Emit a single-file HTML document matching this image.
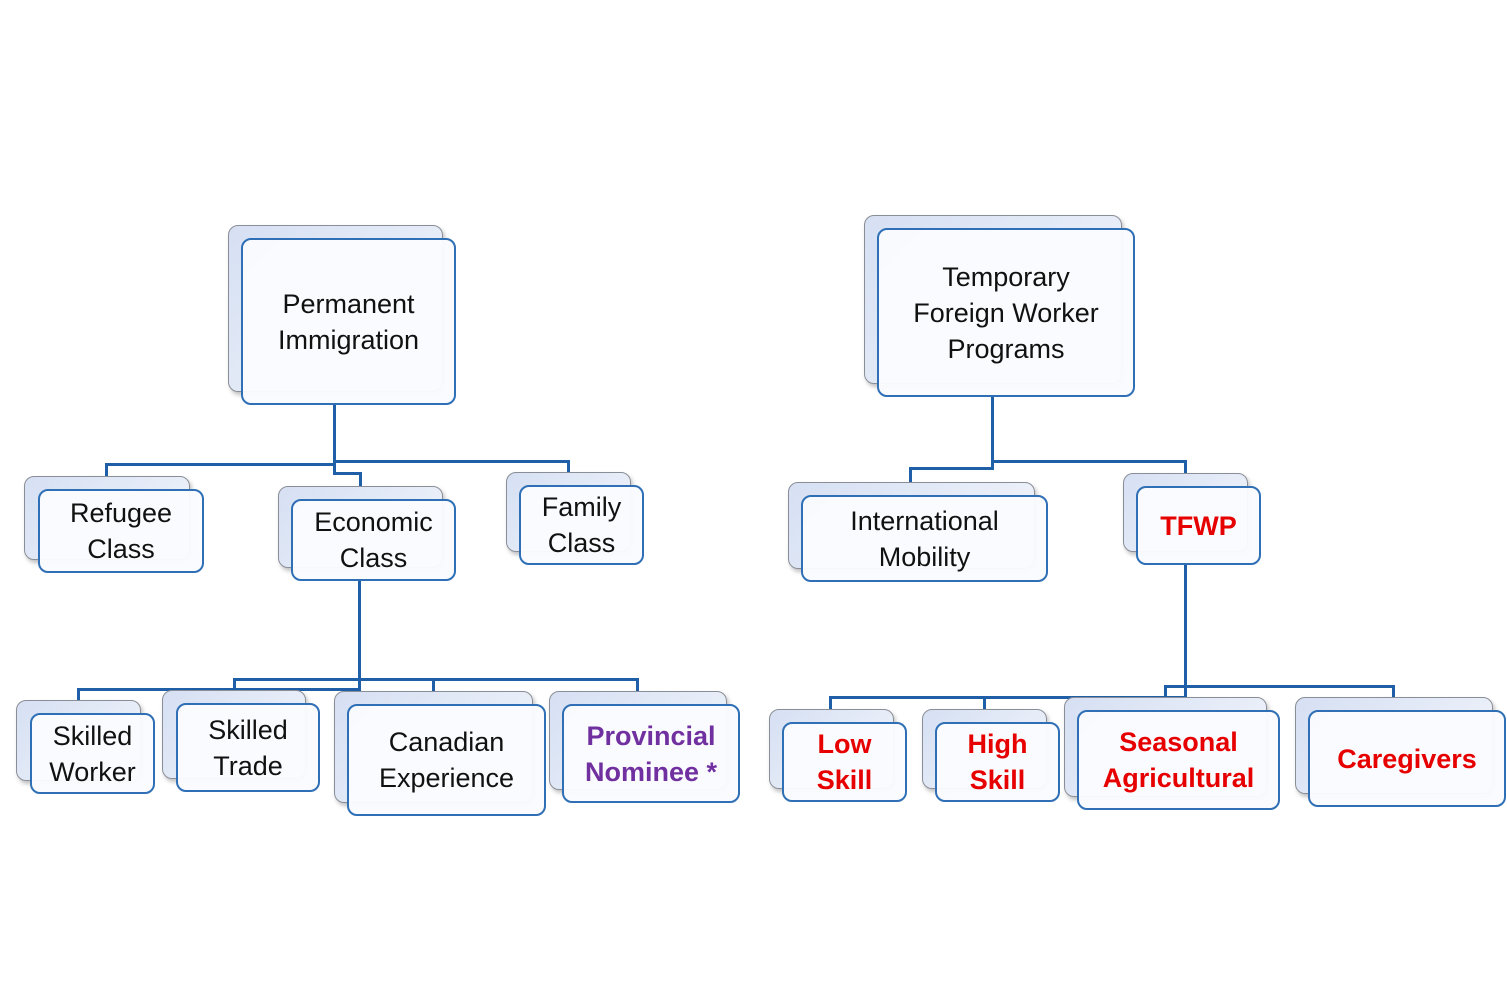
<!DOCTYPE html>
<html><head><meta charset="utf-8"><style>
body{margin:0;width:1507px;height:1000px;background:#fff;position:relative;overflow:hidden;font-family:"Liberation Sans",sans-serif}
.b{position:absolute;border:1.5px solid #8a8e96;border-radius:10px;background:linear-gradient(135deg,#d6e0f3,#f2f5fb);box-shadow:2px 3px 4px rgba(0,0,0,.25)}
.f{position:absolute;border:2px solid #2f6fb5;border-radius:10px;background:rgba(250,251,254,.97);display:flex;align-items:center;justify-content:center;text-align:center;font-size:27px;line-height:36px;color:#111;box-sizing:border-box}
.r{color:#e60000;font-weight:bold}
.p{color:#7030a0;font-weight:bold}
.l{position:absolute;background:#1f5fa8}
</style></head><body>
<!-- connectors -->
<div class="l" style="left:333px;top:405px;width:3px;height:70px"></div>
<div class="l" style="left:105px;top:463px;width:231px;height:3px"></div>
<div class="l" style="left:105px;top:463px;width:3px;height:14px"></div>
<div class="l" style="left:333px;top:460px;width:237px;height:3px"></div>
<div class="l" style="left:567px;top:460px;width:3px;height:14px"></div>
<div class="l" style="left:333px;top:472px;width:29px;height:3px"></div>
<div class="l" style="left:359px;top:472px;width:3px;height:28px"></div>
<div class="l" style="left:358px;top:581px;width:3px;height:109px"></div>
<div class="l" style="left:77px;top:688px;width:284px;height:3px"></div>
<div class="l" style="left:77px;top:688px;width:3px;height:15px"></div>
<div class="l" style="left:233px;top:678px;width:406px;height:3px"></div>
<div class="l" style="left:233px;top:678px;width:3px;height:13px"></div>
<div class="l" style="left:432px;top:678px;width:3px;height:14px"></div>
<div class="l" style="left:636px;top:678px;width:3px;height:14px"></div>
<div class="l" style="left:991px;top:397px;width:3px;height:73px"></div>
<div class="l" style="left:909px;top:467px;width:85px;height:3px"></div>
<div class="l" style="left:909px;top:467px;width:3px;height:15px"></div>
<div class="l" style="left:991px;top:460px;width:196px;height:3px"></div>
<div class="l" style="left:1184px;top:460px;width:3px;height:15px"></div>
<div class="l" style="left:1184px;top:565px;width:3px;height:133px"></div>
<div class="l" style="left:829px;top:696px;width:358px;height:3px"></div>
<div class="l" style="left:829px;top:696px;width:3px;height:14px"></div>
<div class="l" style="left:983px;top:696px;width:3px;height:14px"></div>
<div class="l" style="left:1164px;top:685px;width:231px;height:3px"></div>
<div class="l" style="left:1164px;top:685px;width:3px;height:13px"></div>
<div class="l" style="left:1392px;top:685px;width:3px;height:13px"></div>

<!-- nodes -->
<div class="b" style="left:228px;top:225px;width:213px;height:165px"></div>
<div class="f" style="left:241px;top:238px;width:215px;height:167px">Permanent<br>Immigration</div>
<div class="b" style="left:24px;top:476px;width:164px;height:82px"></div>
<div class="f" style="left:38px;top:489px;width:166px;height:84px">Refugee<br>Class</div>
<div class="b" style="left:278px;top:486px;width:163px;height:80px"></div>
<div class="f" style="left:291px;top:499px;width:165px;height:82px">Economic<br>Class</div>
<div class="b" style="left:506px;top:472px;width:123px;height:78px"></div>
<div class="f" style="left:519px;top:485px;width:125px;height:80px">Family<br>Class</div>
<div class="b" style="left:16px;top:700px;width:123px;height:79px"></div>
<div class="f" style="left:30px;top:713px;width:125px;height:81px">Skilled<br>Worker</div>
<div class="b" style="left:162px;top:690px;width:142px;height:87px"></div>
<div class="f" style="left:176px;top:703px;width:144px;height:89px">Skilled<br>Trade</div>
<div class="b" style="left:334px;top:691px;width:197px;height:110px"></div>
<div class="f" style="left:347px;top:704px;width:199px;height:112px">Canadian<br>Experience</div>
<div class="b" style="left:549px;top:691px;width:176px;height:97px"></div>
<div class="f p" style="left:562px;top:704px;width:178px;height:99px">Provincial<br>Nominee *</div>
<div class="b" style="left:864px;top:215px;width:256px;height:167px"></div>
<div class="f" style="left:877px;top:228px;width:258px;height:169px">Temporary<br>Foreign Worker<br>Programs</div>
<div class="b" style="left:788px;top:482px;width:245px;height:85px"></div>
<div class="f" style="left:801px;top:495px;width:247px;height:87px">International<br>Mobility</div>
<div class="b" style="left:1123px;top:473px;width:123px;height:77px"></div>
<div class="f r" style="left:1136px;top:486px;width:125px;height:79px">TFWP</div>
<div class="b" style="left:769px;top:709px;width:123px;height:78px"></div>
<div class="f r" style="left:782px;top:722px;width:125px;height:80px">Low<br>Skill</div>
<div class="b" style="left:922px;top:709px;width:123px;height:78px"></div>
<div class="f r" style="left:935px;top:722px;width:125px;height:80px">High<br>Skill</div>
<div class="b" style="left:1064px;top:697px;width:201px;height:98px"></div>
<div class="f r" style="left:1077px;top:710px;width:203px;height:100px">Seasonal<br>Agricultural</div>
<div class="b" style="left:1295px;top:697px;width:196px;height:95px"></div>
<div class="f r" style="left:1308px;top:710px;width:198px;height:97px">Caregivers</div>
</body></html>
